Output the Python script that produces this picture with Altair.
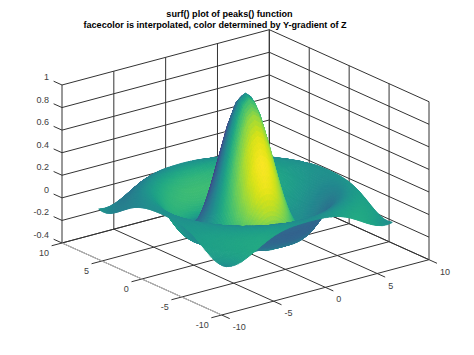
import altair as alt
import numpy as np

alt.data_transformers.disable_max_rows()

TITLE_1 = "surf() plot of peaks() function"
TITLE_2 = "facecolor is interpolated, color determined by Y-gradient of Z"
XY_TICKS = [-10, -5, 0, 5, 10]
Z_TICKS = [-0.4, -0.2, 0, 0.2, 0.4, 0.6, 0.8, 1]
Z_TICK_LABELS = ["-0.4", "-0.2", "0", "0.2", "0.4", "0.6", "0.8", "1"]
GRID_STEP = 0.5

# Surface heights on a 0.5 grid, one octant (row i, column j <= i, distance from the peak in steps)
Z_OCTANT = [
    [1.000],
    [.959, .919],
    [.841, .805, .698],
    [.665, .632, .540, .402],
    [.455, .428, .352, .239, .109],
    [.239, .219, .161, .077, -.019, -.109],
    [.047, .033, -.007, -.063, -.124, -.177, -.210],
    [-.100, -.109, -.131, -.162, -.193, -.213, -.216, -.196],
    [-.189, -.193, -.202, -.212, -.217, -.212, -.192, -.155, -.104],
    [-.217, -.217, -.216, -.211, -.199, -.176, -.142, -.096, -.043, .013],
    [-.192, -.189, -.182, -.167, -.145, -.114, -.075, -.029, .019, .064, .100],
    [-.128, -.125, -.114, -.096, -.071, -.040, -.003, .036, .073, .103, .123, .128],
    [-.047, -.043, -.033, -.016, .007, .033, .061, .089, .111, .125, .128, .118, .095],
    [.033, .036, .044, .057, .073, .090, .107, .121, .128, .126, .115, .093, .062, .025],
    [.094, .096, .100, .107, .115, .123, .128, .128, .121, .107, .085, .056, .022, -.013, -.046],
    [.125, .126, .127, .128, .128, .126, .121, .110, .094, .072, .044, .013, -.019, -.048, -.072, -.087],
    [.124, .123, .121, .118, .112, .103, .090, .073, .052, .026, -.001, -.029, -.054, -.075, -.088, -.091, -.084],
]

# ---- view of the box: screen position of a data point
def project(x, y, z):
    return (245.5 + 10.365 * np.asarray(x) - 7.985 * np.asarray(y),
            206.2 - 2.765 * np.asarray(x) - 3.6 * np.asarray(y) - 112.86 * np.asarray(z))

# ---- full surface from the octant
n = len(Z_OCTANT) - 1
idx = np.arange(-n, n + 1)
Z = np.array([[Z_OCTANT[max(abs(a), abs(b))][min(abs(a), abs(b))] for b in idx] for a in idx])  # Z[ix, iy]
G = np.gradient(Z, axis=1)
gmax = float(np.abs(G).max())
coords = idx * GRID_STEP

SUB = 4
rows = []
pid = 0
t = np.linspace(0, 1, SUB + 1)
for ia in range(2 * n - 1, -1, -1):
    for ib in range(2 * n - 1, -1, -1):
        z00, z10, z01, z11 = Z[ia, ib], Z[ia + 1, ib], Z[ia, ib + 1], Z[ia + 1, ib + 1]
        g00, g10, g01, g11 = G[ia, ib], G[ia + 1, ib], G[ia, ib + 1], G[ia + 1, ib + 1]
        for sa in range(SUB - 1, -1, -1):
            for sb in range(SUB - 1, -1, -1):
                corners = [(sa, sb), (sa + 1, sb), (sa + 1, sb + 1), (sa, sb + 1), (sa, sb)]
                ma, mb = (t[sa] + t[sa + 1]) / 2, (t[sb] + t[sb + 1]) / 2
                gc = (g00 * (1 - ma) * (1 - mb) + g10 * ma * (1 - mb)
                      + g01 * (1 - ma) * mb + g11 * ma * mb)
                for k, (ca, cb) in enumerate(corners):
                    u, v = t[ca], t[cb]
                    zv = (z00 * (1 - u) * (1 - v) + z10 * u * (1 - v)
                          + z01 * (1 - u) * v + z11 * u * v)
                    xv = coords[ia] + u * GRID_STEP
                    yv = coords[ib] + v * GRID_STEP
                    sx, sy = project(xv, yv, zv)
                    rows.append({"x": round(float(sx), 2), "y": round(float(sy), 2),
                                 "p": pid, "k": k, "g": round(float(gc), 4)})
                pid += 1

X = alt.X("x:Q", scale=alt.Scale(domain=[8, 466]), axis=None)
Y = alt.Y("y:Q", scale=alt.Scale(domain=[338, 8]), axis=None)
color_scale = alt.Scale(scheme="viridis", domain=[-gmax, gmax])

surface = alt.Chart(alt.Data(values=rows)).mark_line(
    strokeWidth=0.9, strokeJoin="round", strokeCap="round", interpolate="linear", clip=False
).encode(
    x=X, y=Y, detail="p:N", order="k:Q",
    fill=alt.Fill("g:Q", scale=color_scale, legend=None),
    stroke=alt.Stroke("g:Q", scale=color_scale, legend=None),
)

# ---- box lines
def seg(a, b, kind="d"):
    ax, ay = project(*a)
    bx, by = project(*b)
    return {"x": float(ax), "y": float(ay), "x2": float(bx), "y2": float(by), "kind": kind}

lo, hi = XY_TICKS[0], XY_TICKS[-1]
zlo, zhi = Z_TICKS[0], Z_TICKS[-1]
segs = []
for v in XY_TICKS:
    segs.append(seg((v, hi, zlo), (v, hi, zhi)))              # wall y=10 verticals
    segs.append(seg((hi, v, zlo), (hi, v, zhi)))              # wall x=10 verticals
    segs.append(seg((v, lo - 1.0, zlo), (v, hi, zlo)))        # floor lines + x ticks
    if v != lo:
        segs.append(seg((lo - 1.0, v, zlo), (hi, v, zlo)))    # floor lines + y ticks
for z in Z_TICKS:
    segs.append(seg((lo, hi, z), (hi, hi, z)))
    segs.append(seg((hi, hi, z), (hi, lo, z)))
    segs.append(seg((lo, hi, z), (lo, hi + 1.05, z)))         # z ticks
segs.append(seg((lo - 1.0, lo, zlo), (hi, lo, zlo)))
dark = [s for s in segs if s["kind"] == "d"]
light = [seg((lo, lo, zlo), (lo, hi, zlo), "l")]

def rules(vals, color, w):
    return alt.Chart(alt.Data(values=vals)).mark_rule(color=color, strokeWidth=w).encode(
        x=X, y=Y, x2="x2:Q", y2="y2:Q")

grid = rules(dark, "#333333", 1.0)
edge = rules(light, "#c0c0c0", 1.0)

# ---- labels
def labels(vals, align):
    return alt.Chart(alt.Data(values=vals)).mark_text(
        align=align, baseline="middle", font="Liberation Sans", fontSize=9, color="#404040"
    ).encode(x=X, y=Y, text="t:N")

zl = []
for z, t_ in zip(Z_TICKS, Z_TICK_LABELS):
    sx, sy = project(lo, hi, z)
    zl.append({"x": float(sx) - 13, "y": float(sy) - 8, "t": t_})
yl = []
xl = []
for v in XY_TICKS:
    sx, sy = project(lo, v, zlo)
    yl.append({"x": float(sx) - 13, "y": float(sy) + 10, "t": str(v)})
    sx, sy = project(v, lo, zlo)
    xl.append({"x": float(sx) + 11, "y": float(sy) + 12, "t": str(v)})

titles = alt.Chart(alt.Data(values=[
    {"x": 229.5, "y": 13.5, "t": TITLE_1},
    {"x": 215, "y": 24.5, "t": TITLE_2},
])).mark_text(align="center", baseline="middle", font="Liberation Sans", fontSize=9.1,
              fontWeight="bold", color="#000000").encode(x=X, y=Y, text="t:N")

chart = alt.layer(
    grid, edge, surface, labels(zl, "right"), labels(yl, "right"), labels(xl, "left"), titles
).properties(
    width=458, height=330, padding=0, autosize=alt.AutoSizeParams(type="none")
).configure_view(stroke=None)

chart.save("out.html", embed_options={"renderer": "svg", "actions": False})
